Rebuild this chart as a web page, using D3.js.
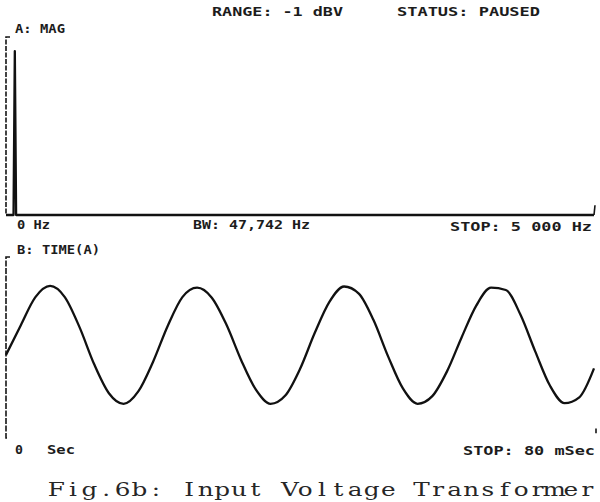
<!DOCTYPE html>
<html>
<head>
<meta charset="utf-8">
<script src="https://cdn.jsdelivr.net/npm/d3@7"></script>
<style>
  body { margin: 0; background: #fff; }
  #chart { width: 600px; height: 502px; }
  .lbl { font-family: "DejaVu Sans Mono", monospace; font-size: 12px; font-weight: bold; fill: #1c1c1c; }
  .cap { font-family: "DejaVu Serif", serif; font-size: 19px; fill: #262626; }
  .axis-line { stroke: #151515; stroke-width: 1.6; fill: none; }
  .trace { stroke: #111; stroke-width: 2.3; fill: none; stroke-linejoin: round; }
</style>
</head>
<body>
<div id="chart"></div>
<script>
// ============================================================
//  Fig.6b — Input Voltage Transformer (analyzer printout)
// ============================================================

// --- Data: trace A, magnitude spectrum (normalised) ---
const specFreq = [0, 40, 64, 75, 86, 110, 5000];
const specMag  = [0, 0, 0, 0.92, 0, 0, 0];

// --- Data: trace B, time record (normalised volts) ---
const timeMs = [0, 2, 4, 6, 8, 10, 12, 14, 16, 18, 20, 22, 24, 26, 28, 30, 32, 34, 36, 38,
                40, 42, 44, 46, 48, 50, 52, 54, 56, 58, 60, 62, 64, 66, 68, 70, 72, 74, 76, 78, 80];
const voltage = [-0.17, 0.33, 0.81, 1.0, 0.81, 0.30, -0.33, -0.82, -1.0, -0.79,
                 -0.29, 0.32, 0.81, 0.97, 0.80, 0.34, -0.26, -0.76, -1.0, -0.86,
                 -0.41, 0.20, 0.73, 0.99, 0.87, 0.42, -0.20, -0.74, -1.0, -0.87,
                 -0.45, 0.13, 0.67, 0.97, 0.93, 0.51, -0.11, -0.69, -0.99, -0.89, -0.40];

// --- Header / annotation texts ---
const headerTexts = ['RANGE: -1 dBV', 'STATUS: PAUSED'];
const traceA = { title: 'A: MAG', start: '0 Hz', mid: 'BW: 47,742 Hz', stop: 'STOP: 5 000 Hz' };
const traceB = { title: 'B: TIME(A)', start: '0', unit: 'Sec', stop: 'STOP: 80 mSec' };
const caption = 'Fig.6b: Input Voltage Transformer';

function render() {
    const W = 600, H = 502;
    const svg = d3.select('#chart').append('svg')
        .attr('width', W)
        .attr('height', H);

    const left = 6, right = 594;

    // --- Scales ---
    const xA = d3.scaleLinear().domain([0, 5000]).range([left, right]);
    const yA = d3.scaleLinear().domain([0, 1]).range([215, 37]);
    const xB = d3.scaleLinear().domain([0, 80]).range([left, right]);
    const yB = d3.scaleLinear().domain([-1.58, 1.49]).range([438, 257]);

    // --- Header ---
    addLabel(svg, 212, 16, headerTexts[0], 131);
    addLabel(svg, 397, 16, headerTexts[1], 143);

    // --- Trace A frame ---
    addLabel(svg, 15, 33, traceA.title, 50);
    svg.append('path').attr('class', 'axis-line')
        .attr('stroke-dasharray', '5,1.5')
        .attr('d', `M${left + 4},${yA(1)} H${left} V${yA(0)}`);
    svg.append('path').attr('class', 'axis-line')
        .attr('d', `M${right},${yA(0)} L${right + 1},${yA(0.055)}`);

    const specData = specFreq.map((f, i) => ({ f, m: specMag[i] }));
    svg.append('path')
        .datum(specData)
        .attr('class', 'trace')
        .attr('stroke-width', 1.8)
        .attr('d', d3.line().x(d => xA(d.f)).y(d => yA(d.m)));

    addLabel(svg, 17, 229, traceA.start, 33);
    addLabel(svg, 193, 229, traceA.mid, 117);
    addLabel(svg, 450, 231, traceA.stop, 142);

    // --- Trace B frame ---
    addLabel(svg, 17, 254, traceB.title, 83);
    svg.append('path').attr('class', 'axis-line')
        .attr('stroke-dasharray', '6,1.5')
        .attr('d', `M${left + 4},${yB(1.49)} H${left} V${yB(-1.58)} h2`);
    svg.append('path').attr('class', 'axis-line')
        .attr('d', `M${right + 2},${yB(-1.5)} V${yB(-1.42)}`);

    const timeData = timeMs.map((t, i) => ({ t, v: voltage[i] }));
    svg.append('path')
        .datum(timeData)
        .attr('class', 'trace')
        .attr('d', d3.line().curve(d3.curveMonotoneX).x(d => xB(d.t)).y(d => yB(d.v)));

    addLabel(svg, 15, 454, traceB.start, 8);
    addLabel(svg, 47, 454, traceB.unit, 28);
    addLabel(svg, 463, 455, traceB.stop, 132);

    // --- Caption: typewriter pitch, one glyph per cell ---
    addTypewriter(svg, 48, 496, caption, 16.6, 1.3);
}

// --- Helper: fixed-width printer label ---
function addLabel(svg, x, y, txt, len) {
    svg.append('text')
        .attr('class', 'lbl')
        .attr('x', x)
        .attr('y', y)
        .attr('textLength', len)
        .attr('lengthAdjust', 'spacingAndGlyphs')
        .text(txt);
}

// --- Helper: centre every character in a fixed (wide) cell ---
function addTypewriter(svg, x0, y, txt, pitch, sx) {
    const g = svg.append('g').attr('transform', `translate(${x0},0) scale(${sx},1)`);
    const t = g.append('text').attr('class', 'cap').attr('y', y).text(txt);
    const node = t.node();
    const p = pitch / sx;
    const xs = [];
    for (let i = 0; i < txt.length; i++) {
        const w = txt[i] === ' ' ? 0 : node.getSubStringLength(i, 1);
        xs.push((i * p + (p - w) / 2).toFixed(2));
    }
    t.attr('x', xs.join(' '));
}

render();
</script>
</body>
</html>
